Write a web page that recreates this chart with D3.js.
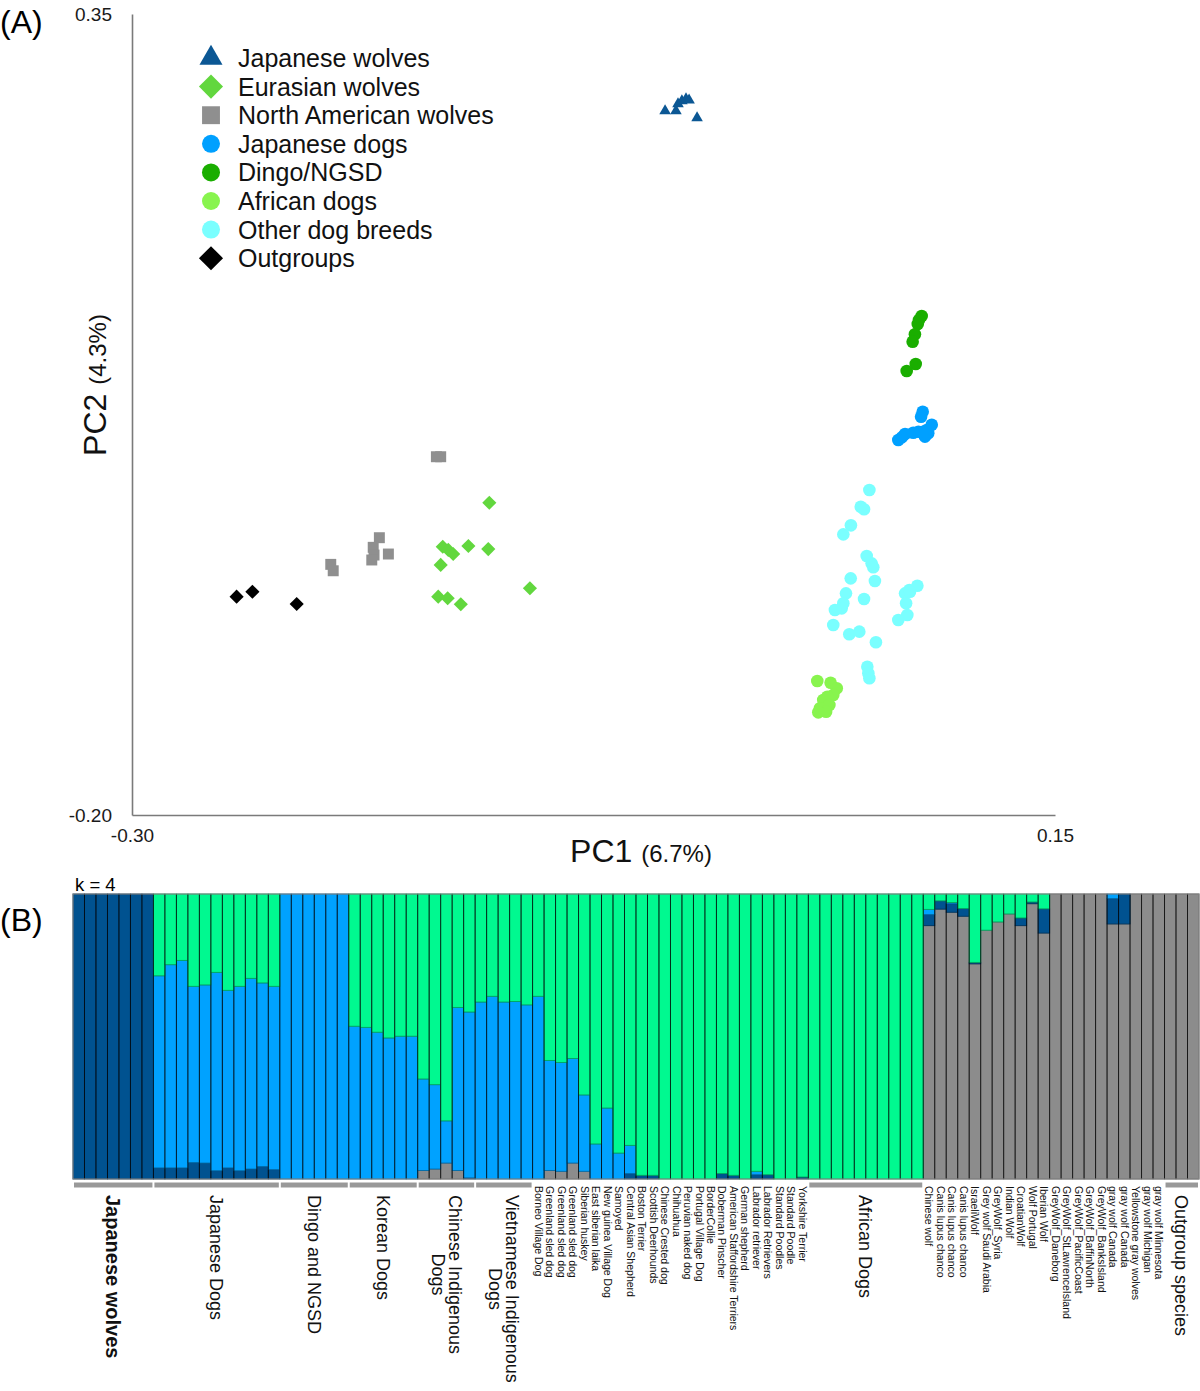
<!DOCTYPE html>
<html>
<head>
<meta charset="utf-8">
<script src="https://cdn.jsdelivr.net/npm/d3@7"></script>
<style>
  body { margin: 0; background: #fff; }
  svg { display: block; }
</style>
</head>
<body>
<div id="chart"></div>
<script>
// (A) PCA of wolves and dogs, (B) ADMIXTURE k = 4

// ---- panel A data: [PC1, PC2] per sample ----
const JAPANESE_WOLVES = [[-0.0401, 0.2834], [-0.0348, 0.2834], [-0.0338, 0.2882], [-0.0319, 0.2903],
  [-0.0299, 0.2916], [-0.0284, 0.2909], [-0.0245, 0.2786]];
const EURASIAN_WOLVES = [[-0.1258, 0.0144], [-0.1485, -0.0158], [-0.1458, -0.0180], [-0.1434, -0.0208],
  [-0.1360, -0.0153], [-0.1263, -0.0174], [-0.1495, -0.0283], [-0.1060, -0.0443], [-0.1507, -0.0501],
  [-0.1461, -0.0512], [-0.1397, -0.0553]];
const NA_WOLVES = [[-0.1516, 0.0460], [-0.1495, 0.0460], [-0.1794, -0.0096], [-0.1824, -0.0162],
  [-0.1820, -0.0215], [-0.1831, -0.0249], [-0.1750, -0.0208], [-0.2031, -0.0279], [-0.2019, -0.0323]];
const JAPANESE_DOGS = [[0.0855, 0.0769], [0.0847, 0.0735], [0.0899, 0.0680], [0.0882, 0.0621],
  [0.0875, 0.0644], [0.0866, 0.0598], [0.0858, 0.0632], [0.0834, 0.0632], [0.0809, 0.0625],
  [0.0769, 0.0616], [0.0753, 0.0593], [0.0736, 0.0575]];
const DINGO_NGSD = [[0.0850, 0.1426], [0.0837, 0.1399], [0.0831, 0.1371], [0.0817, 0.1301],
  [0.0806, 0.1250], [0.0821, 0.1097], [0.0777, 0.1049]];
const AFRICAN_DOGS = [[0.0341, -0.1080], [0.0406, -0.1092], [0.0436, -0.1130], [0.0419, -0.1176],
  [0.0390, -0.1188], [0.0370, -0.1210], [0.0400, -0.1245], [0.0354, -0.1267], [0.0384, -0.1291],
  [0.0346, -0.1295]];
const OTHER_DOGS = [[0.0595, 0.0232], [0.0553, 0.0117], [0.0569, 0.0099], [0.0505, -0.0011],
  [0.0468, -0.0073], [0.0582, -0.0222], [0.0606, -0.0272], [0.0614, -0.0299], [0.0504, -0.0375],
  [0.0622, -0.0393], [0.0481, -0.0478], [0.0569, -0.0517], [0.0468, -0.0546], [0.0460, -0.0581],
  [0.0427, -0.0592], [0.0419, -0.0695], [0.0497, -0.0759], [0.0546, -0.0741], [0.0627, -0.0814],
  [0.0585, -0.0982], [0.0590, -0.1027], [0.0595, -0.1061], [0.0769, -0.0478], [0.0790, -0.0455],
  [0.0829, -0.0426], [0.0793, -0.0467], [0.0774, -0.0546], [0.0780, -0.0627], [0.0736, -0.0661]];
const OUTGROUPS = [[-0.2490, -0.0501], [-0.2413, -0.0467], [-0.2197, -0.0551]];

const LEGEND_LABELS = ['Japanese wolves', 'Eurasian wolves', 'North American wolves', 'Japanese dogs',
  'Dingo/NGSD', 'African dogs', 'Other dog breeds', 'Outgroups'];
const PC1_TICKS = [-0.30, 0.15];
const PC2_TICKS = [-0.20, 0.35];

// ---- panel B data ----
const DOG_BREEDS = ['Borneo Village Dog', 'Greenland sled dog', 'Greenland sled dog', 'Greenland sled dog',
  'Siberian huskey', 'East siberian laika', 'New guinea Village Dog', 'Samoyed', 'Central Asian Shepherd',
  'Boston Terrier', 'Scottish Deerhounds', 'Chinese Crested dog', 'Chihuahua', 'Peruvian naked dog',
  'Portugal Village Dog', 'BorderCollie', 'Doberman Pinscher', 'American Staffordshire Terriers',
  'German shepherd', 'Labrador retriever', 'Labrador Retrievers', 'Standard Poodles', 'Standard Poodle',
  'Yorkshire Terrier'];
const WOLF_SAMPLES = ['Chinese wolf', 'Canis lupus chanco', 'Canis lupus chanco', 'Canis lupus chanco',
  'IsraeliWolf', 'Grey wolf Saudi Arabia', 'GreyWolf_Syria', 'Indian Wolf', 'CroatianWolf', 'Wolf Portugal',
  'Iberian Wolf', 'GreyWolf_Daneborg', 'GreyWolf_StLawrenceIsland', 'GreyWolf_PacificCoast',
  'GreyWolf_BaffinNorth', 'GreyWolf_BanksIsland', 'gray wolf Canada', 'gray wolf Canada',
  'Yellowstone gray wolves', 'gray wolf Michigan', 'gray wolf Minnesota'];
const GROUP_NAMES = ['Japanese wolves', 'Japanese Dogs', 'Dingo and NGSD', 'Korean Dogs',
  'Chinese Indigenous\nDogs', 'Vietnamese Indigenous\nDogs', DOG_BREEDS, 'African Dogs', WOLF_SAMPLES,
  'Outgroup species'];
const GROUP_SIZES = [7, 11, 6, 6, 5, 5, 24, 10, 21, 3];

// ancestry proportions, stacked bottom to top: wolf (gray), Japanese wolf, East Asian dog, dog
const Q_GRAY = [
  0, 0, 0, 0, 0, 0, 0,
  0, 0, 0, 0, 0, 0, 0, 0, 0, 0, 0,
  0, 0, 0, 0, 0, 0,
  0, 0, 0, 0, 0, 0,
  .030, .035, .056, .030, 0,
  0, 0, 0, 0, 0,
  0, .030, .027, .056, .027, 0, 0, 0, 0, 0, 0, 0, 0, 0, 0, 0, 0, 0, 0, 0, 0, 0, 0, 0,
  0, 0, 0, 0, 0, 0, 0, 0, 0, 0,
  .889, .947, .936, .922, .755, .873, .902, .930, .889, .966, .863, 1, 1, 1, 1, 1, .895, .895, 1, 1, 1,
  1, 1, 1];
const Q_JWOLF = [
  1, 1, 1, 1, 1, 1, 1,
  .039, .039, .039, .058, .056, .029, .039, .029, .035, .044, .033,
  0, 0, 0, 0, 0, 0,
  0, 0, 0, 0, 0, 0,
  0, 0, 0, 0, .004,
  0, 0, 0, 0, 0,
  0, 0, 0, 0, 0, 0, 0, 0, .019, .013, .013, 0, 0, 0, 0, 0, .019, .013, 0, .015, .015, 0, 0, .007,
  0, 0, 0, 0, 0, 0, 0, 0, 0, 0,
  .039, .029, .030, .027, .005, 0, 0, 0, .027, .006, .085, 0, 0, 0, 0, 0, .089, .105, 0, 0, 0,
  0, 0, 0];
const Q_JDOG = [
  0, 0, 0, 0, 0, 0, 0,
  .674, .713, .728, .618, .625, .696, .623, .647, .669, .644, .643,
  1, 1, 1, 1, 1, 1,
  .536, .532, .515, .495, .501, .501,
  .321, .296, .148, .572, .582,
  .621, .641, .621, .623, .611,
  .641, .386, .382, .367, .268, .123, .249, .091, .099, 0, 0, 0, 0, 0, 0, 0, 0, 0, 0, .012, 0, 0, 0, 0,
  0, 0, 0, 0, 0, 0, 0, 0, 0, 0,
  .018, 0, .004, 0, 0, 0, 0, 0, 0, 0, 0, 0, 0, 0, 0, 0, .016, 0, 0, 0, 0,
  0, 0, 0];
const Q_DOGS = [
  0, 0, 0, 0, 0, 0, 0,
  .287, .248, .233, .324, .319, .275, .338, .324, .296, .312, .324,
  0, 0, 0, 0, 0, 0,
  .464, .468, .485, .505, .499, .499,
  .649, .669, .796, .398, .414,
  .379, .359, .379, .377, .389,
  .359, .584, .591, .577, .705, .877, .751, .909, .882, .987, .987, 1, 1, 1, 1, 1, .981, .987, 1, .973,
  .985, 1, 1, .993,
  1, 1, 1, 1, 1, 1, 1, 1, 1, 1,
  .054, .024, .030, .051, .240, .127, .098, .070, .084, .028, .052, 0, 0, 0, 0, 0, 0, 0, 0, 0, 0,
  0, 0, 0];

const FONT = '"Liberation Sans", Arial, Helvetica, sans-serif';
const W = 1200, H = 1391;

const svg = d3.select('#chart').append('svg')
  .attr('width', W).attr('height', H)
  .attr('font-family', FONT);

// marker helpers
const triangle = s => d3.symbol().type(d3.symbolTriangle).size(s)();
const square = s => d3.symbol().type(d3.symbolSquare).size(s)();
const circle = s => d3.symbol().type(d3.symbolCircle).size(s)();
// diamond here is a square turned 45°, as in the figure
const MARKERS = [
  { data: JAPANESE_WOLVES, shape: triangle, size: 58, leg: 230, rot: 0, fill: '#0B5794' },
  { data: EURASIAN_WOLVES, shape: square, size: 100, leg: 290, rot: 45, fill: '#62D73E' },
  { data: NA_WOLVES, shape: square, size: 120, leg: 320, rot: 0, fill: '#8F8F8F' },
  { data: JAPANESE_DOGS, shape: circle, size: 125, leg: 255, rot: 0, fill: '#00A0FF' },
  { data: DINGO_NGSD, shape: circle, size: 125, leg: 255, rot: 0, fill: '#1AAE00' },
  { data: AFRICAN_DOGS, shape: circle, size: 125, leg: 255, rot: 0, fill: '#88F44E' },
  { data: OTHER_DOGS, shape: circle, size: 125, leg: 255, rot: 0, fill: '#7AFFFF' },
  { data: OUTGROUPS, shape: square, size: 100, leg: 290, rot: 45, fill: '#000000' },
];

// ================= (A) =================
const x = d3.scaleLinear().domain([-0.30, 0.15]).range([132, 1055]);
const y = d3.scaleLinear().domain([-0.20, 0.35]).range([815, 14]);

svg.append('text').attr('x', 0).attr('y', 33).attr('font-size', 32).text('(A)');

const gy = svg.append('g').attr('transform', `translate(${x.range()[0]},0)`)
  .call(d3.axisLeft(y).tickValues(PC2_TICKS).tickSize(0).tickPadding(20).tickFormat(d => d.toFixed(2)));
const gx = svg.append('g').attr('transform', `translate(0,${y.range()[0]})`)
  .call(d3.axisBottom(x).tickValues(PC1_TICKS).tickSize(0).tickPadding(14).tickFormat(d => d.toFixed(2)));
[gx, gy].forEach(g => {
  g.attr('font-family', FONT).attr('font-size', 19);
  g.select('.domain').attr('stroke', '#7a7a7a').attr('stroke-width', 1.6);
  g.selectAll('text').attr('fill', '#1a1a1a');
});

// axis titles
const t2 = svg.append('text').attr('transform', 'translate(106,385) rotate(-90)')
  .attr('text-anchor', 'middle').attr('fill', '#111');
t2.append('tspan').attr('font-size', 32).text('PC2 ');
t2.append('tspan').attr('font-size', 24).text('(4.3%)');
const t1 = svg.append('text').attr('x', 641).attr('y', 862)
  .attr('text-anchor', 'middle').attr('fill', '#111');
t1.append('tspan').attr('font-size', 32).text('PC1 ');
t1.append('tspan').attr('font-size', 24).text('(6.7%)');

// points
MARKERS.forEach(m => {
  svg.append('g').selectAll('path').data(m.data).join('path')
    .attr('d', m.shape(m.size))
    .attr('transform', d => `translate(${x(d[0])},${y(d[1])}) rotate(${m.rot})`)
    .attr('fill', m.fill);
});

// legend
const leg = svg.append('g').attr('transform', 'translate(211,58)');
LEGEND_LABELS.forEach((lab, i) => {
  const m = MARKERS[i];
  const row = leg.append('g').attr('transform', `translate(0,${i * 28.6})`);
  row.append('path').attr('d', m.shape(m.leg))
    .attr('transform', `rotate(${m.rot})`).attr('fill', m.fill);
  row.append('text').attr('x', 27).attr('y', 9).attr('font-size', 25).attr('fill', '#111').text(lab);
});

// ================= (B) =================
svg.append('text').attr('x', 0).attr('y', 931).attr('font-size', 32).text('(B)');
svg.append('text').attr('x', 75).attr('y', 891).attr('font-size', 18.5).text('k = 4');

// build sample order and the group spans
const sampleLabels = [];
const spans = [];
GROUP_NAMES.forEach((g, gi) => {
  const start = sampleLabels.length;
  for (let k = 0; k < GROUP_SIZES[gi]; k++) sampleLabels.push(Array.isArray(g) ? g[k] : '');
  if (!Array.isArray(g)) spans.push({ name: g, start, end: sampleLabels.length });
});
const N = sampleLabels.length;

const rows = d3.range(N).map(i => ({ i, gray: Q_GRAY[i], jwolf: Q_JWOLF[i], jdog: Q_JDOG[i], dogs: Q_DOGS[i] }));
const KEYS = ['gray', 'jwolf', 'jdog', 'dogs'];
const COLORS = { gray: '#8C8C8C', jwolf: '#005290', jdog: '#00A2FF', dogs: '#00F990' };

const bx = d3.scaleBand().domain(d3.range(N)).range([73, 1199]);
const by = d3.scaleLinear().domain([0, 1]).range([1179, 894]);

const layers = d3.stack().keys(KEYS)(rows);
const bars = svg.append('g');
layers.forEach(layer => {
  const c = COLORS[layer.key];
  bars.append('g').selectAll('rect')
    .data(layer.filter(d => d[1] - d[0] > 0.0005))
    .join('rect')
    .attr('x', d => bx(d.data.i))
    .attr('y', d => by(Math.min(1, d[1])))
    .attr('width', bx.bandwidth())
    .attr('height', d => by(d[0]) - by(Math.min(1, d[1])))
    .attr('fill', c)
    .attr('stroke', d3.color(c).darker(1.1))
    .attr('stroke-width', 0.9);
});
// separators between individuals
bars.append('g').selectAll('line').data(d3.range(1, N)).join('line')
  .attr('x1', i => bx(i)).attr('x2', i => bx(i))
  .attr('y1', by(1)).attr('y2', by(0))
  .attr('stroke', '#000').attr('stroke-opacity', 0.75).attr('stroke-width', 1);
bars.append('rect')
  .attr('x', bx.range()[0]).attr('y', by(1))
  .attr('width', bx.range()[1] - bx.range()[0]).attr('height', by(0) - by(1))
  .attr('fill', 'none').attr('stroke', '#8a8a8a').attr('stroke-width', 1);

// individual sample names
const labY = 1186;
svg.append('g').selectAll('text')
  .data(sampleLabels.map((s, i) => ({ s, i })).filter(d => d.s))
  .join('text')
  .attr('transform', d => `translate(${bx(d.i) + bx.bandwidth() / 2},${labY}) rotate(90)`)
  .attr('dy', '0.35em')
  .attr('font-size', 10.5)
  .attr('fill', '#111')
  .text(d => d.s);

// group bars and names
const grp = svg.append('g');
grp.selectAll('rect').data(spans).join('rect')
  .attr('x', d => bx(d.start) + 1)
  .attr('width', d => bx(d.end - 1) + bx.bandwidth() - bx(d.start) - 2)
  .attr('y', 1182.5).attr('height', 5)
  .attr('fill', '#999');

spans.forEach(d => {
  const lines = d.name.split('\n');
  const cx = (bx(d.start) + bx(d.end - 1) + bx.bandwidth()) / 2;
  const lh = 17;
  const off = (lines.length - 1) * lh / 2;
  const t = svg.append('text')
    .attr('transform', `translate(${cx + off},1195) rotate(90)`)
    .attr('font-size', d.name === 'Japanese wolves' ? 20 : 18)
    .attr('font-weight', d.name === 'Japanese wolves' ? 'bold' : 'normal')
    .attr('fill', '#111');
  const first = t.append('tspan').attr('x', 0).attr('dy', '0.35em').text(lines[0]);
  if (lines.length > 1) {
    const w0 = first.node().getComputedTextLength();
    lines.slice(1).forEach(l => {
      t.append('tspan').attr('x', w0 / 2).attr('dy', lh).attr('text-anchor', 'middle').text(l);
    });
  }
});
</script>
</body>
</html>
